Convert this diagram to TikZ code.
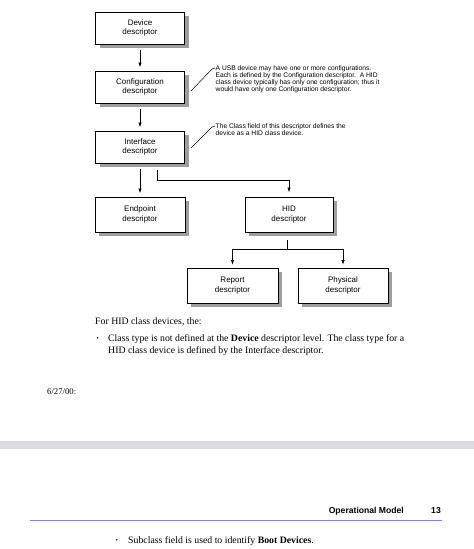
\documentclass[tikz,border=0pt]{standalone}
\usepackage{fontspec}
\setmainfont{Liberation Serif}
\newfontfamily\hv{Liberation Sans}
\usetikzlibrary{arrows.meta,shadows,calc}
\definecolor{bandgray}{RGB}{221,221,226}
\definecolor{ruleblue}{RGB}{128,128,226}
\begin{document}
\begin{tikzpicture}[x=1pt,y=-1pt,
  descbox/.style={draw=black, line width=0.9pt, fill=white, minimum width=89pt, minimum height=32pt,
    align=center, font=\hv\fontsize{8}{9.8}\selectfont, inner sep=0pt,
    drop shadow={shadow xshift=4pt, shadow yshift=-4pt, fill=black!38, opacity=1}},
  arr/.style={line width=0.6pt, -{Latex[length=4.5pt,width=3.4pt]}},
  conn/.style={line width=0.6pt},
  note/.style={anchor=north west, inner sep=0pt, align=left, font=\hv\fontsize{6.7}{7.1}\selectfont},
  body/.style={anchor=base west, inner sep=0pt, font=\fontsize{9.8}{12}\selectfont},
  leader/.style={line width=0.5pt}]
\useasboundingbox (0,0) rectangle (474,549);

% boxes
\node[descbox] (dev) at (140,28) {Device\\descriptor};
\node[descbox] (cfg) at (140,87) {Configuration\\descriptor};
\node[descbox] (ifc) at (140,147) {Interface\\descriptor};
\node[descbox, minimum width=90pt, minimum height=35pt] (ep) at (140,214.5) {Endpoint\\descriptor};
\node[descbox, minimum width=88pt, minimum height=35pt] (hid) at (289,214.5) {HID\\descriptor};
\node[descbox, minimum width=91pt, minimum height=35pt] (rep) at (232.5,285.5) {Report\\descriptor};
\node[descbox, minimum width=90pt, minimum height=35pt] (phy) at (343,285.5) {Physical\\descriptor};

% connectors
\draw[arr, shorten <=6pt, shorten >=3.5pt] (dev) -- (cfg);
\draw[arr, shorten <=6pt, shorten >=3.5pt] (cfg) -- (ifc);
\draw[arr, shorten <=6pt, shorten >=3.5pt] (ifc) -- (ep);
\draw[arr, shorten <=7pt, shorten >=4.5pt] ([xshift=17pt]ifc.south) |- ([yshift=16pt]hid.north) -- (hid.north);
\draw[conn, shorten <=8pt] ([xshift=-2pt]hid.south) -- ([xshift=-2pt,yshift=-17pt]hid.south);
\draw[arr, shorten >=3pt] ([xshift=-2pt,yshift=-17pt]hid.south) -| (rep.north);
\draw[arr, shorten >=3pt] ([xshift=-2pt,yshift=-17pt]hid.south) -| (phy.north);

% callouts
\coordinate (c1a) at (191,91);
\coordinate (c1b) at (212,69);
\coordinate (c1c) at (215,68);
\draw[leader] (c1a) -- (c1b) to[bend left=20] (c1c);
\node[note] (n1) at (215.5,65.5) {A USB device may have one or more configurations.\\
Each is defined by the Configuration descriptor.\ \ A HID\\
class device typically has only one configuration; thus it\\
would have only one Configuration descriptor.};
\coordinate (c2a) at (191,148);
\coordinate (c2b) at (212,127);
\coordinate (c2c) at (215,126);
\draw[leader] (c2a) -- (c2b) to[bend left=20] (c2c);
\node[note] (n2) at (215.5,123.5) {The Class field of this descriptor defines the\\
device as a HID class device.};

% body text
\node[body] (t1) at (95,324.5) {For HID class devices, the:};
\node[body] (b1) at (96,341.5) {\textbf{·}};
\node[body] (t2) at (108,341.5) {Class type is not defined at the \textbf{Device} descriptor level. The class type for a};
\node[body] (t3) at (108,353.5) {HID class device is defined by the Interface descriptor.};
\node[anchor=base west, inner sep=0pt, font=\fontsize{8.7}{10}\selectfont] (date) at (47,394) {6/27/00:};

% page break band
\fill[bandgray] (0,441) rectangle (474,449);

% footer / next page header
\node[anchor=base east, inner sep=0pt, font=\hv\bfseries\fontsize{8.6}{10}\selectfont] (hdr) at (404,513.5) {Operational Model};
\node[anchor=base east, inner sep=0pt, font=\hv\bfseries\fontsize{8.6}{10}\selectfont] (pg) at (441,513.5) {13};
\draw[ruleblue, line width=0.9pt] (30,520.5) -- (442,520.5);
\node[body] (b2) at (115,543) {\textbf{·}};
\node[body] (t4) at (128,543) {Subclass field is used to identify \textbf{Boot Devices}.};
\end{tikzpicture}
\end{document}
